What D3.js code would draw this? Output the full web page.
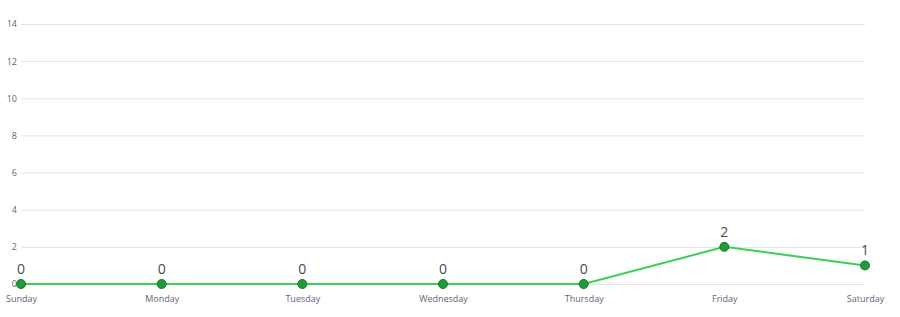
<!DOCTYPE html>
<html>
<head>
<meta charset="utf-8">
<script src="https://cdn.jsdelivr.net/npm/d3@7"></script>
<style>
  body { margin: 0; background: #fff; }
  svg { display: block; font-family: "Open Sans", "Noto Sans", sans-serif; }
</style>
</head>
<body>
<div id="chart"></div>
<script>
// data
var days = ["Sunday", "Monday", "Tuesday", "Wednesday", "Thursday", "Friday", "Saturday"];
var counts = [0, 0, 0, 0, 0, 2, 1];
var yTicks = [0, 2, 4, 6, 8, 10, 12, 14];

var svgWidth = 900;
var svgHeight = 317;

var svg = d3.select("#chart")
  .append("svg")
  .attr("width", svgWidth)
  .attr("height", svgHeight);

var xScale = d3.scalePoint()
  .domain(days)
  .range([21, 865]);

var yScale = d3.scaleLinear()
  .domain([0, 14])
  .range([284, 24]);

// gridlines
svg.append("g")
  .selectAll("line")
  .data(yTicks)
  .enter()
  .append("line")
  .attr("x1", 21)
  .attr("x2", 865)
  .attr("y1", d => yScale(d) + 0.5)
  .attr("y2", d => yScale(d) + 0.5)
  .attr("stroke", "#e3e3e6")
  .attr("stroke-width", 1);

// y axis labels
var leftAxis = d3.axisLeft(yScale).tickValues(yTicks).tickSize(0).tickPadding(4);
var yAxis = svg.append("g")
  .attr("transform", "translate(21,0)")
  .call(leftAxis);
yAxis.select(".domain").remove();
yAxis.selectAll("text")
  .attr("font-size", "9px")
  .attr("font-family", "\"Open Sans\", sans-serif")
  .attr("fill", "#5f6577");

// x axis labels
var bottomAxis = d3.axisBottom(xScale).tickSize(0).tickPadding(12);
var xAxis = svg.append("g")
  .attr("transform", "translate(0,284)")
  .call(bottomAxis);
xAxis.select(".domain").remove();
xAxis.selectAll("text")
  .attr("font-size", "9px")
  .attr("font-family", "\"Open Sans\", sans-serif")
  .attr("fill", "#5f6577");

// line
var line = d3.line()
  .x((d, i) => xScale(days[i]))
  .y(d => yScale(d));

svg.append("path")
  .datum(counts)
  .attr("d", line)
  .attr("fill", "none")
  .attr("stroke", "#3ccf55")
  .attr("stroke-width", 2);

// points
svg.append("g")
  .selectAll("circle")
  .data(counts)
  .enter()
  .append("circle")
  .attr("cx", (d, i) => xScale(days[i]))
  .attr("cy", d => yScale(d))
  .attr("r", 4.5)
  .attr("fill", "#229a3c")
  .attr("stroke", "#17772c")
  .attr("stroke-width", 1);

// value labels
svg.append("g")
  .selectAll("text")
  .data(counts)
  .enter()
  .append("text")
  .attr("x", (d, i) => xScale(days[i]))
  .attr("y", d => yScale(d) - 10)
  .attr("text-anchor", "middle")
  .attr("font-size", "14px")
  .attr("fill", "#3f4a5c")
  .text(d => d);
</script>
</body>
</html>
